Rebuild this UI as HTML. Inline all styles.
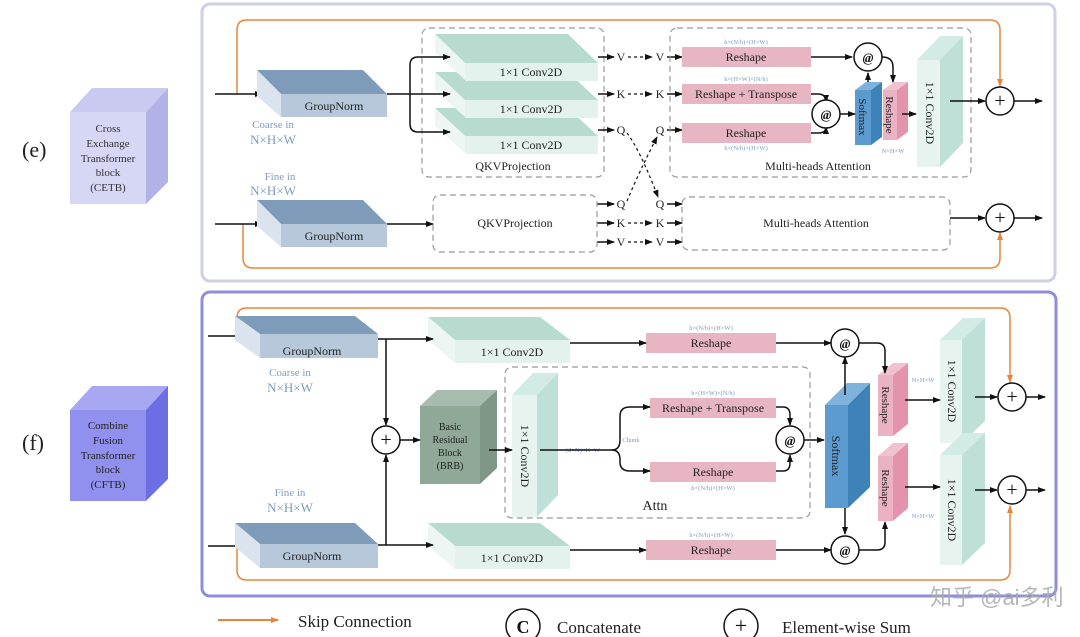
<!DOCTYPE html>
<html><head><meta charset="utf-8"><style>
html,body{margin:0;padding:0;background:#fff;}
svg{display:block;font-family:"Liberation Serif",serif;}
</style></head><body>
<svg width="1080" height="637" viewBox="0 0 1080 637" xmlns="http://www.w3.org/2000/svg">
<defs>
<marker id="a" markerWidth="8" markerHeight="8" refX="7" refY="4" orient="auto" markerUnits="userSpaceOnUse"><path d="M0,1 L8,4 L0,7 Z" fill="#111"/></marker>
<marker id="o" markerWidth="8" markerHeight="8" refX="7" refY="4" orient="auto" markerUnits="userSpaceOnUse"><path d="M0,1 L8,4 L0,7 Z" fill="#e8853a"/></marker>
</defs>
<rect width="1080" height="637" fill="#fff"/>
<rect x="202" y="4" width="853" height="277" rx="8" fill="#fff" stroke="#cfcfe6" stroke-width="3"/>
<rect x="202" y="292" width="854" height="304" rx="8" fill="#fff" stroke="#8d8ddc" stroke-width="3"/>

<polygon points="70,112 92,88 168,88 146,112" fill="#c9c9f1"/>
<polygon points="146,112 168,88 168,182 146,204" fill="#b2b2e8"/>
<rect x="70" y="112" width="76" height="92" fill="#d6d6f5"/>
<g font-size="11" fill="#333" text-anchor="middle">
<text x="108" y="132">Cross</text><text x="108" y="147">Exchange</text><text x="108" y="162">Transformer</text><text x="108" y="176">block</text><text x="108" y="191">(CETB)</text>
</g>
<polygon points="70,410 92,386 168,386 146,410" fill="#a8a8f2"/>
<polygon points="146,410 168,386 168,479 146,501" fill="#6e6ee4"/>
<rect x="70" y="410" width="76" height="91" fill="#9090ee"/>
<g font-size="11" fill="#222" text-anchor="middle">
<text x="108" y="429">Combine</text><text x="108" y="444">Fusion</text><text x="108" y="459">Transformer</text><text x="108" y="473">block</text><text x="108" y="488">(CFTB)</text>
</g>
<text x="22" y="157" font-size="22" fill="#222">(e)</text>
<text x="22" y="450" font-size="22" fill="#222">(f)</text>

<path d="M237,94 V30 Q237,20 247,20 H990 Q1000,20 1000,30 V86" fill="none" stroke="#e8853a" stroke-width="1.5" marker-end="url(#o)"/>
<path d="M243,224 V258 Q243,268 253,268 H990 Q1000,268 1000,258 V233" fill="none" stroke="#e8853a" stroke-width="1.5" marker-end="url(#o)"/>
<line x1="215" y1="94" x2="262" y2="94" stroke="#111" stroke-width="1.5" marker-end="url(#a)"/>
<line x1="215" y1="224" x2="262" y2="224" stroke="#111" stroke-width="1.5" marker-end="url(#a)"/>

<polygon points="257,70 363,70 387,94 281,94" fill="#7f9bba"/>
<polygon points="257,70 281,94 281,117 257,96" fill="#dbe4ee"/>
<rect x="281" y="94" width="106" height="23" fill="#b6c8da"/>
<text x="334" y="110" font-size="12" text-anchor="middle" fill="#222">GroupNorm</text>
<polygon points="257,200 363,200 387,224 281,224" fill="#7f9bba"/>
<polygon points="257,200 281,224 281,247 257,226" fill="#dbe4ee"/>
<rect x="281" y="224" width="106" height="23" fill="#b6c8da"/>
<text x="334" y="240" font-size="12" text-anchor="middle" fill="#222">GroupNorm</text>

<g fill="#7d9cc0" text-anchor="middle">
<text x="273" y="128" font-size="11">Coarse in</text><text x="273" y="144" font-size="13">N×H×W</text>
<text x="280" y="180" font-size="11">Fine in</text><text x="273" y="195" font-size="13">N×H×W</text>
</g>

<rect x="422" y="28" width="182" height="149" rx="7" fill="none" stroke="#999" stroke-width="1.2" stroke-dasharray="6,4"/>
<text x="513" y="170" font-size="12" text-anchor="middle" fill="#222">QKVProjection</text>
<g>
<polygon points="435,108 568,108 598,136 465,136" fill="#b7dccf"/><polygon points="435,108 465,136 465,153 435,126" fill="#eef6f3"/><rect x="465" y="136" width="133" height="18" fill="#e4f2ee"/>
<text x="531" y="149" font-size="12" text-anchor="middle" fill="#222">1×1 Conv2D</text>
<polygon points="435,72 568,72 598,100 465,100" fill="#b7dccf"/><polygon points="435,72 465,100 465,117 435,90" fill="#eef6f3"/><rect x="465" y="100" width="133" height="18" fill="#e4f2ee"/>
<text x="531" y="113" font-size="12" text-anchor="middle" fill="#222">1×1 Conv2D</text>
<polygon points="435,34 568,34 598,63 465,63" fill="#b7dccf"/><polygon points="435,34 465,63 465,80 435,52" fill="#eef6f3"/><rect x="465" y="63" width="133" height="18" fill="#e4f2ee"/>
<text x="531" y="76" font-size="12" text-anchor="middle" fill="#222">1×1 Conv2D</text>
</g>
<g stroke="#111" stroke-width="1.5" fill="none">
<line x1="387" y1="94" x2="450" y2="94" marker-end="url(#a)"/>
<path d="M410,94 V65 Q410,57 418,57 H450" marker-end="url(#a)"/>
<path d="M410,94 V124 Q410,132 418,132 H450" marker-end="url(#a)"/>
<line x1="598" y1="57" x2="614" y2="57" marker-end="url(#a)"/>
<line x1="598" y1="94" x2="614" y2="94" marker-end="url(#a)"/>
<line x1="598" y1="130" x2="614" y2="130" marker-end="url(#a)"/>
<line x1="387" y1="224" x2="433" y2="224" marker-end="url(#a)"/>
<line x1="597" y1="204" x2="614" y2="204" marker-end="url(#a)"/>
<line x1="597" y1="223" x2="614" y2="223" marker-end="url(#a)"/>
<line x1="597" y1="242" x2="614" y2="242" marker-end="url(#a)"/>
<line x1="667" y1="57" x2="682" y2="57" marker-end="url(#a)"/>
<line x1="667" y1="94" x2="682" y2="94" marker-end="url(#a)"/>
<line x1="667" y1="130" x2="682" y2="130" marker-end="url(#a)"/>
<line x1="667" y1="204" x2="682" y2="204" marker-end="url(#a)"/>
<line x1="667" y1="223" x2="682" y2="223" marker-end="url(#a)"/>
<line x1="667" y1="242" x2="682" y2="242" marker-end="url(#a)"/>
</g>
<g stroke="#111" stroke-width="1.2" fill="none" stroke-dasharray="3,3">
<line x1="628" y1="57" x2="652" y2="57" marker-end="url(#a)"/>
<line x1="628" y1="94" x2="652" y2="94" marker-end="url(#a)"/>
<line x1="628" y1="223" x2="652" y2="223" marker-end="url(#a)"/>
<line x1="628" y1="242" x2="652" y2="242" marker-end="url(#a)"/>
<path d="M627,133 Q640,150 658,197" marker-end="url(#a)"/>
<path d="M627,201 Q640,170 657,137" marker-end="url(#a)"/>
</g>
<g font-size="12" fill="#222" text-anchor="middle">
<text x="621" y="61">V</text><text x="621" y="98">K</text><text x="621" y="134">Q</text>
<text x="660" y="61">V</text><text x="660" y="98">K</text><text x="660" y="134">Q</text>
<text x="621" y="208">Q</text><text x="621" y="227">K</text><text x="621" y="246">V</text>
<text x="660" y="208">Q</text><text x="660" y="227">K</text><text x="660" y="246">V</text>
</g>

<rect x="670" y="28" width="301" height="149" rx="7" fill="none" stroke="#999" stroke-width="1.2" stroke-dasharray="6,4"/>
<text x="818" y="170" font-size="12" text-anchor="middle" fill="#222">Multi-heads Attention</text>
<rect x="682" y="47" width="129" height="20" fill="#e8b6c3"/><text x="746" y="61" font-size="12" text-anchor="middle" fill="#222">Reshape</text>
<rect x="682" y="84" width="129" height="20" fill="#e8b6c3"/><text x="746" y="98" font-size="12" text-anchor="middle" fill="#222">Reshape + Transpose</text>
<rect x="682" y="123" width="129" height="20" fill="#e8b6c3"/><text x="746" y="137" font-size="12" text-anchor="middle" fill="#222">Reshape</text>
<g font-size="6.5" fill="#7d9cc0" text-anchor="middle">
<text x="746" y="44">h×(N/h)×(H×W)</text><text x="746" y="81">h×(H×W)×(N/h)</text><text x="746" y="150">h×(N/h)×(H×W)</text><text x="893" y="153">N×H×W</text>
</g>
<polygon points="855,90 866,82 882,82 871,90" fill="#7fb2dc"/>
<polygon points="871,90 882,82 882,137 871,145" fill="#3d82b8"/>
<rect x="855" y="90" width="16" height="55" fill="#5b9bd0"/>
<text transform="translate(859,117) rotate(90)" font-size="11" text-anchor="middle" fill="#222">Softmax</text>
<polygon points="883,90 894,82 908,82 897,90" fill="#f0c2cf"/>
<polygon points="897,90 908,82 908,132 897,140" fill="#e394ac"/>
<rect x="883" y="90" width="14" height="50" fill="#eab2c2"/>
<text transform="translate(886,115) rotate(90)" font-size="11" text-anchor="middle" fill="#222">Reshape</text>
<polygon points="917,60 940,36 963,36 940,60" fill="#d2ebe4"/>
<polygon points="940,60 963,36 963,143 940,167" fill="#bfe0d6"/>
<rect x="917" y="60" width="23" height="107" fill="#e6f3ef"/>
<text transform="translate(926,113) rotate(90)" font-size="12" text-anchor="middle" fill="#222">1×1 Conv2D</text>
<g stroke="#111" stroke-width="1.5" fill="none">
<line x1="811" y1="57" x2="852" y2="57" marker-end="url(#a)"/>
<path d="M882,57 Q893,57 893,67 V82" marker-end="url(#a)"/>
<line x1="868" y1="82" x2="868" y2="73" marker-end="url(#a)"/>
<path d="M811,94 H818 Q826,94 826,102" marker-end="url(#a)"/>
<path d="M811,133 H818 Q826,133 826,127" marker-end="url(#a)"/>
<line x1="840" y1="114" x2="855" y2="114" marker-end="url(#a)"/>
<line x1="902" y1="114" x2="916" y2="114" marker-end="url(#a)"/>
<line x1="950" y1="101" x2="985" y2="101" marker-end="url(#a)"/>
<line x1="1014" y1="101" x2="1042" y2="101" marker-end="url(#a)"/>
<line x1="950" y1="218" x2="985" y2="218" marker-end="url(#a)"/>
<line x1="1014" y1="218" x2="1042" y2="218" marker-end="url(#a)"/>
</g>
<g fill="#fff" stroke="#111" stroke-width="1.5">
<circle cx="868" cy="57" r="14"/><circle cx="826" cy="114" r="14"/>
<circle cx="1000" cy="101" r="14"/><circle cx="1000" cy="218" r="14"/>
</g>
<g font-size="13" font-style="italic" font-weight="bold" text-anchor="middle" fill="#111">
<text x="868" y="62">@</text><text x="826" y="119">@</text>
</g>
<g font-size="20" text-anchor="middle" fill="#111"><text x="1000" y="107">+</text><text x="1000" y="224">+</text></g>
<rect x="682" y="197" width="268" height="53" rx="7" fill="none" stroke="#999" stroke-width="1.2" stroke-dasharray="6,4"/>
<text x="816" y="227" font-size="12" text-anchor="middle" fill="#222">Multi-heads Attention</text>
<rect x="433" y="195" width="164" height="57" rx="7" fill="none" stroke="#999" stroke-width="1.2" stroke-dasharray="6,4"/>
<text x="515" y="227" font-size="12" text-anchor="middle" fill="#222">QKVProjection</text>

<path d="M237,336 V318 Q237,308 247,308 H1000 Q1010,308 1010,318 V382" fill="none" stroke="#e8853a" stroke-width="1.5" marker-end="url(#o)"/>
<path d="M237,546 V570 Q237,580 247,580 H1000 Q1010,580 1010,570 V506" fill="none" stroke="#e8853a" stroke-width="1.5" marker-end="url(#o)"/>
<line x1="208" y1="336" x2="258" y2="336" stroke="#111" stroke-width="1.5" marker-end="url(#a)"/>
<line x1="208" y1="546" x2="258" y2="546" stroke="#111" stroke-width="1.5" marker-end="url(#a)"/>
<polygon points="235,316 355,316 378,334 260,334" fill="#7f9bba"/>
<polygon points="235,316 260,334 260,358 235,340" fill="#dbe4ee"/>
<rect x="260" y="334" width="118" height="24" fill="#b6c8da"/>
<text x="312" y="355" font-size="12" text-anchor="middle" fill="#222">GroupNorm</text>
<polygon points="235,523 355,523 378,544 260,544" fill="#7f9bba"/>
<polygon points="235,523 260,544 260,568 235,547" fill="#dbe4ee"/>
<rect x="260" y="544" width="118" height="24" fill="#b6c8da"/>
<text x="312" y="560" font-size="12" text-anchor="middle" fill="#222">GroupNorm</text>
<g fill="#7d9cc0" text-anchor="middle">
<text x="290" y="376" font-size="11">Coarse in</text><text x="290" y="392" font-size="13">N×H×W</text>
<text x="290" y="496" font-size="11">Fine in</text><text x="290" y="512" font-size="13">N×H×W</text>
</g>
<polygon points="428,317 540,317 570,340 455,340" fill="#b7dccf"/><polygon points="428,317 455,340 455,363 428,340" fill="#eef6f3"/><rect x="455" y="340" width="115" height="23" fill="#e4f2ee"/>
<text x="512" y="356" font-size="12" text-anchor="middle" fill="#222">1×1 Conv2D</text>
<polygon points="428,523 540,523 570,546 455,546" fill="#b7dccf"/><polygon points="428,523 455,546 455,569 428,546" fill="#eef6f3"/><rect x="455" y="546" width="115" height="23" fill="#e4f2ee"/>
<text x="512" y="562" font-size="12" text-anchor="middle" fill="#222">1×1 Conv2D</text>
<polygon points="420,406 437,390 497,390 480,406" fill="#a6bcae"/>
<polygon points="480,406 497,390 497,468 480,484" fill="#7e9786"/>
<rect x="420" y="406" width="60" height="78" fill="#8fa898"/>
<g font-size="10" fill="#222" text-anchor="middle"><text x="450" y="430">Basic</text><text x="450" y="443">Residual</text><text x="450" y="456">Block</text><text x="450" y="469">(BRB)</text></g>
<rect x="505" y="367" width="305" height="151" rx="7" fill="none" stroke="#999" stroke-width="1.2" stroke-dasharray="6,4"/>
<text x="655" y="510" font-size="14" text-anchor="middle" fill="#222">Attn</text>
<polygon points="512,395 533,373 558,373 537,395" fill="#d2ebe4"/>
<polygon points="537,395 558,373 558,495 537,517" fill="#bfe0d6"/>
<rect x="512" y="395" width="25" height="122" fill="#e6f3ef"/>
<text transform="translate(521,456) rotate(90)" font-size="12" text-anchor="middle" fill="#222">1×1 Conv2D</text>
<rect x="650" y="398" width="126" height="20" fill="#e8b6c3"/><text x="713" y="412" font-size="12" text-anchor="middle" fill="#222">Reshape + Transpose</text>
<rect x="650" y="462" width="126" height="20" fill="#e8b6c3"/><text x="713" y="476" font-size="12" text-anchor="middle" fill="#222">Reshape</text>
<rect x="646" y="333" width="130" height="20" fill="#e8b6c3"/><text x="711" y="347" font-size="12" text-anchor="middle" fill="#222">Reshape</text>
<rect x="646" y="540" width="130" height="20" fill="#e8b6c3"/><text x="711" y="554" font-size="12" text-anchor="middle" fill="#222">Reshape</text>
<g font-size="6.5" fill="#7d9cc0" text-anchor="middle">
<text x="711" y="330">h×(N/h)×(H×W)</text><text x="713" y="395">h×(H×W)×(N/h)</text><text x="713" y="490">h×(N/h)×(H×W)</text><text x="711" y="537">h×(N/h)×(H×W)</text>
<text x="583" y="452">(2×N)×H×W</text><text x="631" y="442">Chunk</text>
<text x="923" y="382">N×H×W</text><text x="923" y="518">N×H×W</text>
</g>
<polygon points="825,405 847,383 870,383 848,405" fill="#7fb2dc"/>
<polygon points="848,405 870,383 870,487 848,508" fill="#3d82b8"/>
<rect x="825" y="405" width="23" height="103" fill="#5b9bd0"/>
<text transform="translate(832,456) rotate(90)" font-size="12" text-anchor="middle" fill="#222">Softmax</text>
<polygon points="878,375 893,363 908,363 893,375" fill="#f0c2cf"/><polygon points="893,375 908,363 908,424 893,436" fill="#e394ac"/><rect x="878" y="375" width="15" height="61" fill="#eab2c2"/>
<text transform="translate(882,405) rotate(90)" font-size="11" text-anchor="middle" fill="#222">Reshape</text>
<polygon points="878,456 893,443 908,443 893,456" fill="#f0c2cf"/><polygon points="893,456 908,443 908,508 893,521" fill="#e394ac"/><rect x="878" y="456" width="15" height="65" fill="#eab2c2"/>
<text transform="translate(882,488) rotate(90)" font-size="11" text-anchor="middle" fill="#222">Reshape</text>
<polygon points="940,340 963,318 985,318 962,340" fill="#d2ebe4"/><polygon points="962,340 985,318 985,421 962,443" fill="#bfe0d6"/><rect x="940" y="340" width="22" height="103" fill="#e6f3ef"/>
<text transform="translate(948,391) rotate(90)" font-size="12" text-anchor="middle" fill="#222">1×1 Conv2D</text>
<polygon points="940,455 963,433 985,433 962,455" fill="#d2ebe4"/><polygon points="962,455 985,433 985,543 962,565" fill="#bfe0d6"/><rect x="940" y="455" width="22" height="110" fill="#e6f3ef"/>
<text transform="translate(948,510) rotate(90)" font-size="12" text-anchor="middle" fill="#222">1×1 Conv2D</text>
<g stroke="#111" stroke-width="1.5" fill="none">
<line x1="378" y1="339" x2="433" y2="339" marker-end="url(#a)"/>
<line x1="378" y1="545" x2="433" y2="545" marker-end="url(#a)"/>
<line x1="386" y1="339" x2="386" y2="425" marker-end="url(#a)"/>
<line x1="386" y1="545" x2="386" y2="455" marker-end="url(#a)"/>
<line x1="400" y1="440" x2="420" y2="440" marker-end="url(#a)"/>
<line x1="489" y1="450" x2="512" y2="450" marker-end="url(#a)"/>
<line x1="540" y1="450" x2="612" y2="450"/>
<path d="M612,450 Q620,450 620,440 V416 Q620,407 630,407 H650" marker-end="url(#a)"/>
<path d="M612,450 Q620,450 620,460 V462 Q620,471 630,471 H650" marker-end="url(#a)"/>
<path d="M776,407 H783 Q790,407 790,415 V425" marker-end="url(#a)"/>
<path d="M776,471 H783 Q790,471 790,463 V455" marker-end="url(#a)"/>
<line x1="804" y1="440" x2="824" y2="440" marker-end="url(#a)"/>
<line x1="570" y1="343" x2="646" y2="343" marker-end="url(#a)"/>
<line x1="570" y1="550" x2="646" y2="550" marker-end="url(#a)"/>
<line x1="776" y1="343" x2="831" y2="343" marker-end="url(#a)"/>
<line x1="776" y1="550" x2="831" y2="550" marker-end="url(#a)"/>
<line x1="845" y1="395" x2="845" y2="357" marker-end="url(#a)"/>
<line x1="845" y1="508" x2="845" y2="534" marker-end="url(#a)"/>
<path d="M859,343 H877 Q885,343 885,351 V373" marker-end="url(#a)"/>
<path d="M859,550 H877 Q885,550 885,542 V522" marker-end="url(#a)"/>
<line x1="905" y1="400" x2="940" y2="400" marker-end="url(#a)"/>
<line x1="905" y1="487" x2="940" y2="487" marker-end="url(#a)"/>
<line x1="975" y1="397" x2="997" y2="397" marker-end="url(#a)"/>
<line x1="1026" y1="397" x2="1045" y2="397" marker-end="url(#a)"/>
<line x1="975" y1="490" x2="997" y2="490" marker-end="url(#a)"/>
<line x1="1026" y1="490" x2="1045" y2="490" marker-end="url(#a)"/>
</g>
<g fill="#fff" stroke="#111" stroke-width="1.5">
<circle cx="386" cy="440" r="14"/><circle cx="790" cy="440" r="14"/>
<circle cx="845" cy="343" r="14"/><circle cx="845" cy="550" r="14"/>
<circle cx="1012" cy="397" r="14"/><circle cx="1012" cy="490" r="14"/>
</g>
<g font-size="13" font-style="italic" font-weight="bold" text-anchor="middle" fill="#111">
<text x="790" y="445">@</text><text x="845" y="348">@</text><text x="845" y="555">@</text>
</g>
<g font-size="20" text-anchor="middle" fill="#111"><text x="386" y="446">+</text><text x="1012" y="403">+</text><text x="1012" y="496">+</text></g>

<line x1="218" y1="620" x2="278" y2="620" stroke="#e8853a" stroke-width="2" marker-end="url(#o)"/>
<text x="298" y="627" font-size="17" fill="#222">Skip Connection</text>
<circle cx="523" cy="626" r="17" fill="#fff" stroke="#111" stroke-width="1.5"/>
<text x="523" y="633" font-size="18" font-weight="bold" text-anchor="middle" fill="#111">C</text>
<text x="557" y="633" font-size="17" fill="#222">Concatenate</text>
<circle cx="741" cy="626" r="17" fill="#fff" stroke="#111" stroke-width="1.5"/>
<text x="741" y="633" font-size="22" text-anchor="middle" fill="#111">+</text>
<text x="782" y="633" font-size="17" fill="#222">Element-wise Sum</text>
<text x="930" y="605" font-size="22" fill="#aaa" font-family="'Liberation Sans','Noto Sans CJK SC',sans-serif" opacity="0.85">知乎 @ai多利</text>
</svg>
</body></html>
